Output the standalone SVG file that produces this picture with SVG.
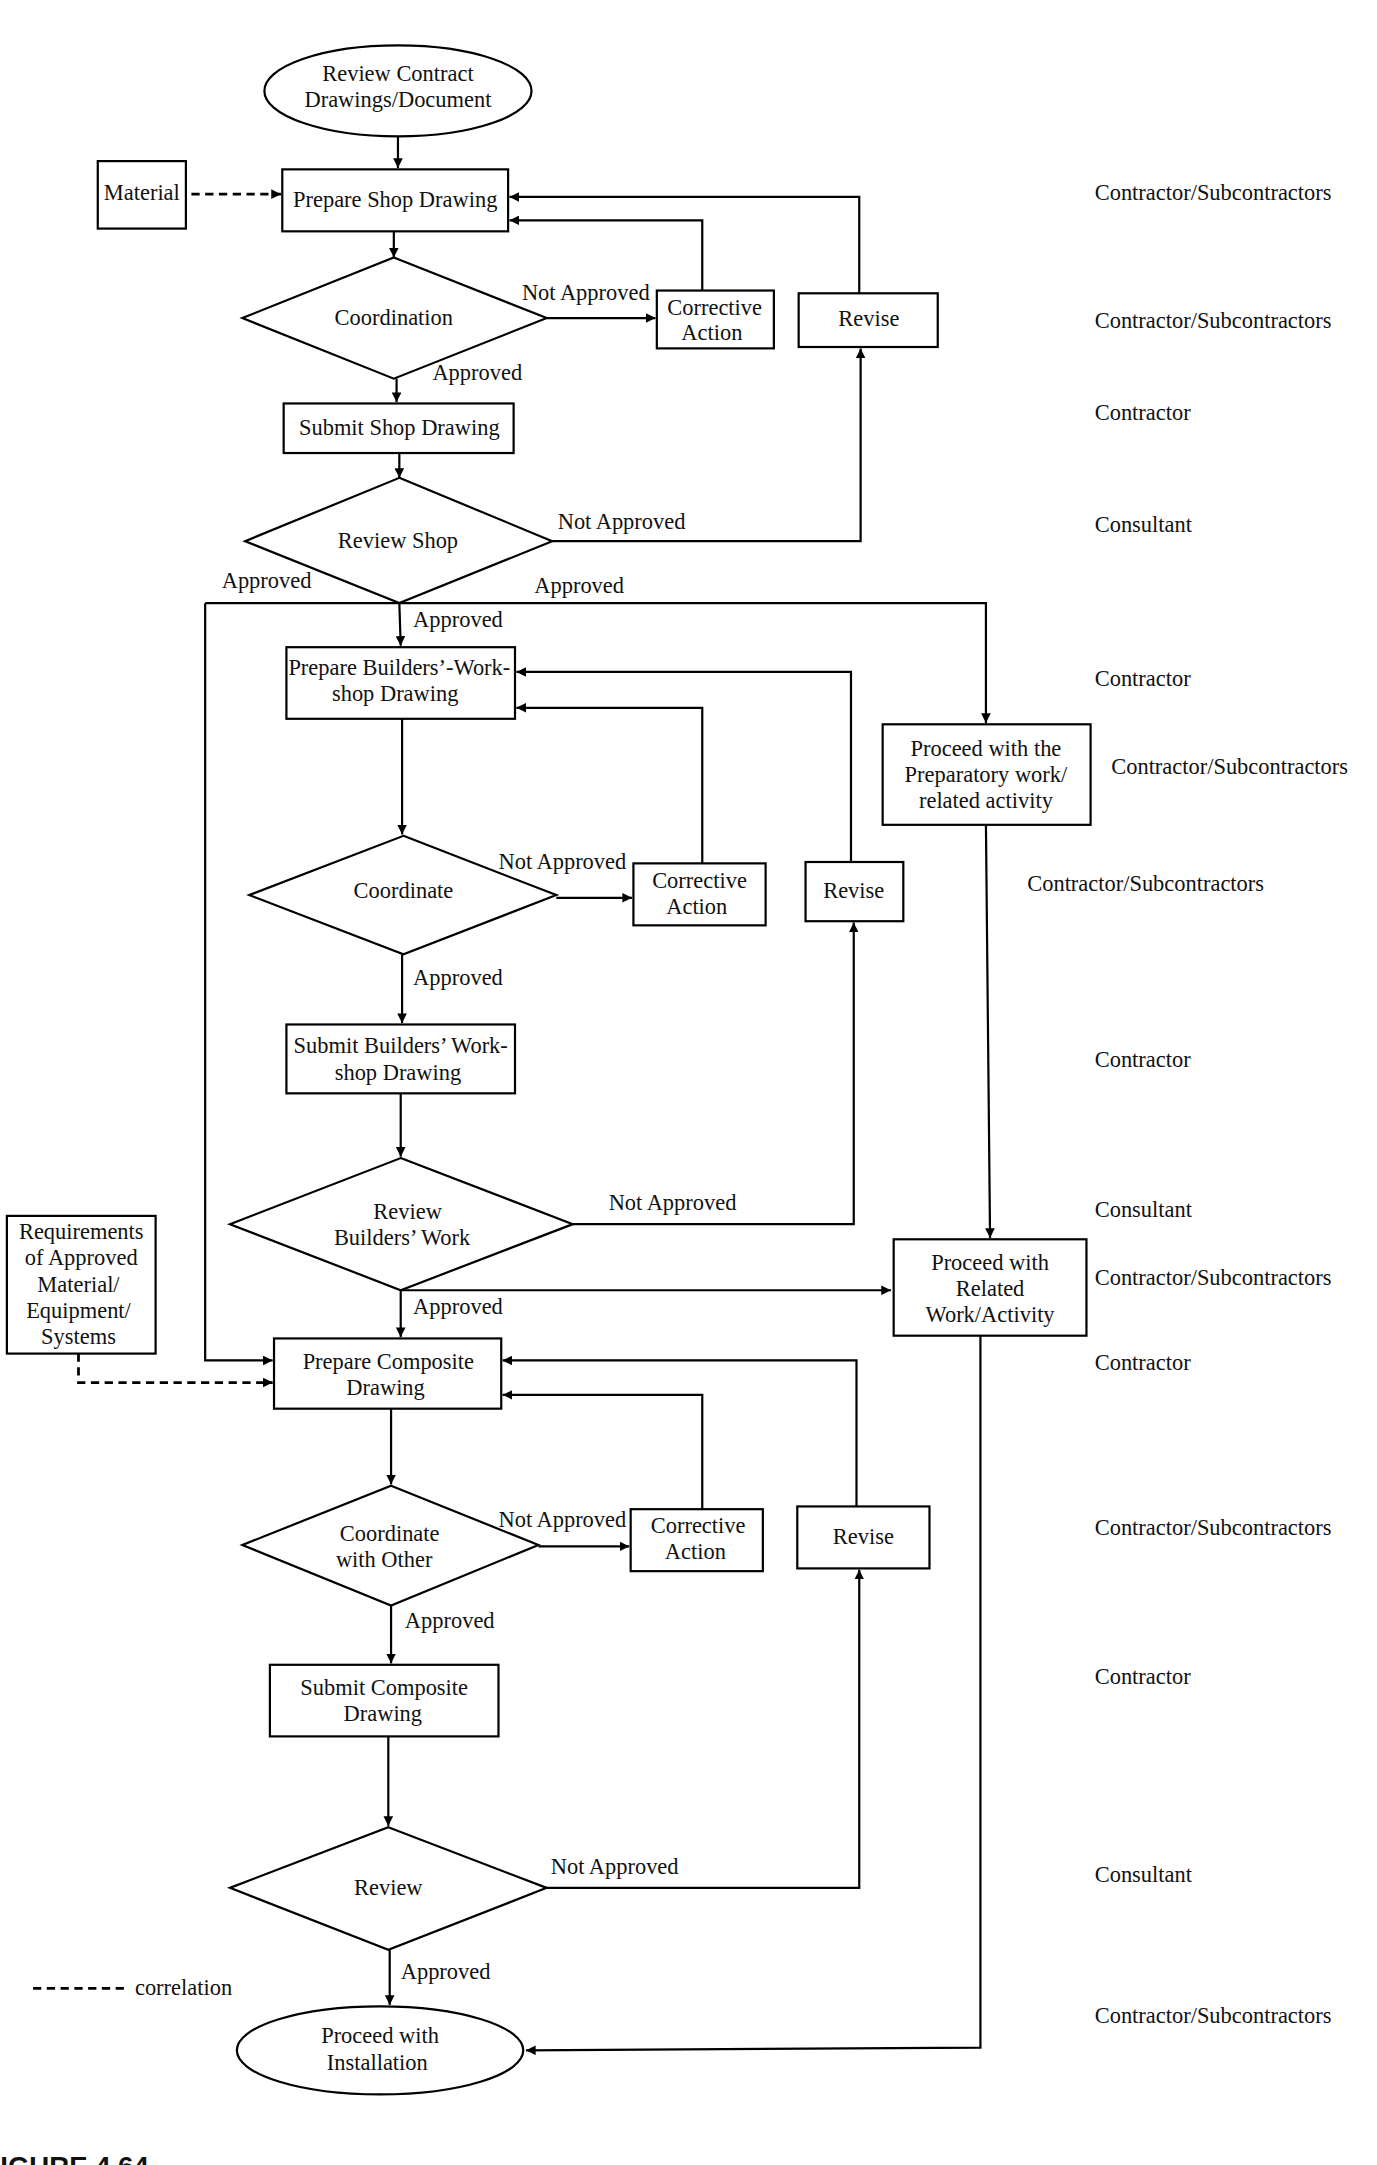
<svg xmlns="http://www.w3.org/2000/svg" width="1377" height="2165" viewBox="0 0 1377 2165">
<defs>
<marker id="ah" viewBox="0 0 10 10" refX="10" refY="5" markerWidth="7" markerHeight="7" markerUnits="userSpaceOnUse" orient="auto"><path d="M0,0 L10,5 L0,10 z" fill="#000"/></marker>
<style>
.n{fill:#fff;stroke:#000;stroke-width:1.6}
.c{fill:none;stroke:#000;stroke-width:1.6}
.d{fill:none;stroke:#000;stroke-width:2;stroke-dasharray:6,4}
text{font-family:"Liberation Serif",serif;font-size:16.3px;fill:#111}
.m{text-anchor:middle}
</style>
</defs>
<rect width="1377" height="2165" fill="#fff"/>
<g transform="scale(1.377)">
<g id="connectors">
<path class="c" d="M289,99 V122" marker-end="url(#ah)"/>
<path class="d" d="M139,141 H204" marker-end="url(#ah)"/>
<path class="c" d="M286,168 V187" marker-end="url(#ah)"/>
<path class="c" d="M397,231 H476" marker-end="url(#ah)"/>
<path class="c" d="M510,211 V160 H370" marker-end="url(#ah)"/>
<path class="c" d="M624,213 V143 H370" marker-end="url(#ah)"/>
<path class="c" d="M288,275 V292" marker-end="url(#ah)"/>
<path class="c" d="M290,329 V347" marker-end="url(#ah)"/>
<path class="c" d="M401,393 H625 V253" marker-end="url(#ah)"/>
<path class="c" d="M149,438 H716 V525" marker-end="url(#ah)"/>
<path class="c" d="M149,438 V988 H198" marker-end="url(#ah)"/>
<path class="c" d="M290,438 L291,469" marker-end="url(#ah)"/>
<path class="c" d="M618,626 V488 H375" marker-end="url(#ah)"/>
<path class="c" d="M510,627 V514 H375" marker-end="url(#ah)"/>
<path class="c" d="M292,522 V606" marker-end="url(#ah)"/>
<path class="c" d="M404,652 H459" marker-end="url(#ah)"/>
<path class="c" d="M292,693 V743" marker-end="url(#ah)"/>
<path class="c" d="M291,794 V840" marker-end="url(#ah)"/>
<path class="c" d="M416,889 H620 V670" marker-end="url(#ah)"/>
<path class="c" d="M291,937 H647" marker-end="url(#ah)"/>
<path class="c" d="M291,937 V971" marker-end="url(#ah)"/>
<path class="c" d="M716,599 L719,899" marker-end="url(#ah)"/>
<path class="c" d="M712,970 V1487 L382,1489" marker-end="url(#ah)"/>
<path class="d" d="M57,983 V1004 H198" marker-end="url(#ah)"/>
<path class="c" d="M622,1094 V988 H365" marker-end="url(#ah)"/>
<path class="c" d="M510,1096 V1013 H365" marker-end="url(#ah)"/>
<path class="c" d="M284,1023 V1078" marker-end="url(#ah)"/>
<path class="c" d="M391,1123 H457" marker-end="url(#ah)"/>
<path class="c" d="M284,1166 V1208" marker-end="url(#ah)"/>
<path class="c" d="M282,1261 V1326" marker-end="url(#ah)"/>
<path class="c" d="M397,1371 H624 V1140" marker-end="url(#ah)"/>
<path class="c" d="M283,1416 V1456" marker-end="url(#ah)"/>
<text x="379" y="218">Not Approved</text>
<text x="314" y="276">Approved</text>
<text x="405" y="384">Not Approved</text>
<text x="161" y="427">Approved</text>
<text x="388" y="431">Approved</text>
<text x="300" y="455">Approved</text>
<text x="362" y="631">Not Approved</text>
<text x="300" y="715">Approved</text>
<text x="442" y="879">Not Approved</text>
<text x="300" y="954">Approved</text>
<text x="362" y="1109">Not Approved</text>
<text x="294" y="1182">Approved</text>
<text x="400" y="1361">Not Approved</text>
<text x="291" y="1437">Approved</text>
</g>
<g id="n_start"><ellipse class="n" cx="289" cy="66" rx="97" ry="33"/><text class="m" x="289" y="59">Review Contract</text><text class="m" x="289" y="78">Drawings/Document</text></g>
<g id="n_material"><rect class="n" x="71" y="117" width="64" height="49"/><text class="m" x="103" y="145">Material</text></g>
<g id="n_prepshop"><rect class="n" x="205" y="123" width="164" height="45"/><text class="m" x="287" y="150">Prepare Shop Drawing</text></g>
<g id="n_coord1"><polygon class="n" points="286,187 397,231 286,275 176,231"/><text class="m" x="286" y="236">Coordination</text></g>
<g id="n_corr1"><rect class="n" x="477" y="211" width="85" height="42"/><text class="m" x="519" y="229">Corrective</text><text class="m" x="517" y="247">Action</text></g>
<g id="n_rev1"><rect class="n" x="580" y="213" width="101" height="39"/><text class="m" x="631" y="237">Revise</text></g>
<g id="n_subshop"><rect class="n" x="206" y="293" width="167" height="36"/><text class="m" x="290" y="316">Submit Shop Drawing</text></g>
<g id="n_revshop"><polygon class="n" points="290,347 401,393 290,438 178,393"/><text class="m" x="289" y="398">Review Shop</text></g>
<g id="n_prepbw"><rect class="n" x="208" y="470" width="166" height="52"/><text class="m" x="290" y="490">Prepare Builders’-Work-</text><text class="m" x="287" y="509">shop Drawing</text></g>
<g id="n_coord2"><polygon class="n" points="293,607 404,650 293,693 181,650"/><text class="m" x="293" y="652">Coordinate</text></g>
<g id="n_corr2"><rect class="n" x="460" y="627" width="96" height="45"/><text class="m" x="508" y="645">Corrective</text><text class="m" x="506" y="664">Action</text></g>
<g id="n_rev2"><rect class="n" x="585" y="626" width="71" height="43"/><text class="m" x="620" y="652">Revise</text></g>
<g id="n_subbw"><rect class="n" x="208" y="744" width="166" height="50"/><text class="m" x="291" y="765">Submit Builders’ Work-</text><text class="m" x="289" y="784">shop Drawing</text></g>
<g id="n_revbw"><polygon class="n" points="291,841 416,889 291,937 167,889"/><text class="m" x="296" y="885">Review</text><text class="m" x="292" y="904">Builders’ Work</text></g>
<g id="n_prep"><rect class="n" x="641" y="526" width="151" height="73"/><text class="m" x="716" y="549">Proceed with the</text><text class="m" x="716" y="568">Preparatory work/</text><text class="m" x="716" y="587">related activity</text></g>
<g id="n_related"><rect class="n" x="649" y="900" width="140" height="70"/><text class="m" x="719" y="922">Proceed with</text><text class="m" x="719" y="941">Related</text><text class="m" x="719" y="960">Work/Activity</text></g>
<g id="n_req"><rect class="n" x="5" y="883" width="108" height="100"/><text class="m" x="59" y="900">Requirements</text><text class="m" x="59" y="919">of Approved</text><text class="m" x="57" y="938">Material/</text><text class="m" x="57" y="957">Equipment/</text><text class="m" x="57" y="976">Systems</text></g>
<g id="n_prepcomp"><rect class="n" x="199" y="972" width="165" height="51"/><text class="m" x="282" y="994">Prepare Composite</text><text class="m" x="280" y="1013">Drawing</text></g>
<g id="n_coord3"><polygon class="n" points="284,1079 391,1122 284,1166 176,1122"/><text class="m" x="283" y="1119">Coordinate</text><text class="m" x="279" y="1138">with Other</text></g>
<g id="n_corr3"><rect class="n" x="458" y="1096" width="96" height="45"/><text class="m" x="507" y="1113">Corrective</text><text class="m" x="505" y="1132">Action</text></g>
<g id="n_rev3"><rect class="n" x="579" y="1094" width="96" height="45"/><text class="m" x="627" y="1121">Revise</text></g>
<g id="n_subcomp"><rect class="n" x="196" y="1209" width="166" height="52"/><text class="m" x="279" y="1231">Submit Composite</text><text class="m" x="278" y="1250">Drawing</text></g>
<g id="n_review"><polygon class="n" points="282,1327 397,1371 282,1416 167,1371"/><text class="m" x="282" y="1376">Review</text></g>
<g id="n_end"><ellipse class="n" cx="276" cy="1489" rx="104" ry="32"/><text class="m" x="276" y="1484">Proceed with</text><text class="m" x="274" y="1503">Installation</text></g>
<g id="legend"><path class="d" d="M24,1444 H92"/><text x="98" y="1449">correlation</text></g>
<g id="roles">
<text x="795" y="145">Contractor/Subcontractors</text>
<text x="795" y="238">Contractor/Subcontractors</text>
<text x="795" y="305">Contractor</text>
<text x="795" y="386">Consultant</text>
<text x="795" y="498">Contractor</text>
<text x="807" y="562">Contractor/Subcontractors</text>
<text x="746" y="647">Contractor/Subcontractors</text>
<text x="795" y="775">Contractor</text>
<text x="795" y="884">Consultant</text>
<text x="795" y="933">Contractor/Subcontractors</text>
<text x="795" y="995">Contractor</text>
<text x="795" y="1115">Contractor/Subcontractors</text>
<text x="795" y="1223">Contractor</text>
<text x="795" y="1367">Consultant</text>
<text x="795" y="1469">Contractor/Subcontractors</text>
</g>
<text x="-12" y="1580" style="font-family:'Liberation Sans',sans-serif;font-weight:bold;font-size:20px">FIGURE 4.64</text>
</g>
</svg>
